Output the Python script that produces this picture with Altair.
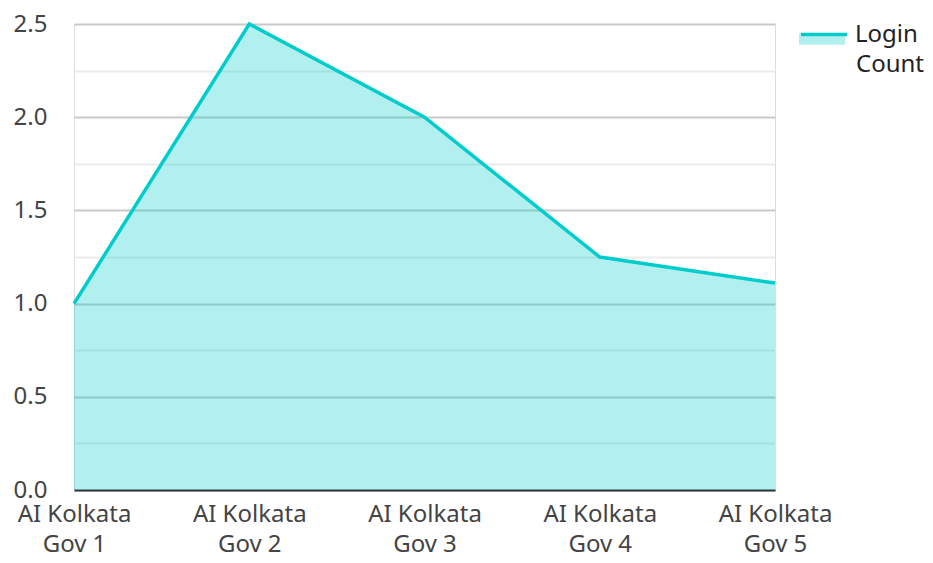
import altair as alt
import pandas as pd

categories = ["AI Kolkata Gov 1", "AI Kolkata Gov 2", "AI Kolkata Gov 3", "AI Kolkata Gov 4", "AI Kolkata Gov 5"]
login_count = [1.0, 2.5, 2.0, 1.25, 1.11]
series_name = "Login Count"
y_ticks = [0, 0.25, 0.5, 0.75, 1.0, 1.25, 1.5, 1.75, 2.0, 2.25, 2.5]

df = pd.DataFrame({"cat": categories, "value": login_count, "series": [series_name] * len(categories)})

FONT = "Noto Sans"
TEAL = "#00cccc"

x_enc = alt.X(
    "cat:N",
    sort=categories,
    scale=alt.Scale(type="point", padding=0),
    axis=alt.Axis(
        title=None,
        labelAngle=0,
        ticks=False,
        domain=True,
        domainColor="#333333",
        domainWidth=2,
        grid=False,
        labelFont=FONT,
        labelFontSize=24,
        labelColor="#444444",
        labelPadding=12,
        labelLineHeight=30,
        labelExpr="[substring(datum.label, 0, 10), substring(datum.label, 11)]",
    ),
)

y_enc = alt.Y(
    "value:Q",
    scale=alt.Scale(domain=[0, 2.5], nice=False),
    axis=alt.Axis(
        title=None,
        values=y_ticks,
        ticks=False,
        domain=False,
        grid=True,
        gridColor={"condition": {"test": "datum.value % 0.5 === 0", "value": "#c9c9c9"}, "value": "#ebebeb"},
        gridWidth=2,
        labelFont=FONT,
        labelFontSize=24,
        labelColor="#444444",
        labelPadding=27,
        labelExpr="datum.value % 0.5 === 0 ? format(datum.value, '.1f') : ''",
    ),
)

area = alt.Chart(df).mark_area(opacity=0.3).encode(
    x=x_enc,
    y=y_enc,
    fill=alt.Fill(
        "series:N",
        scale=alt.Scale(range=[TEAL]),
        legend=alt.Legend(
            orient="none",
            legendX=725,
            legendY=-8,
            title=None,
            symbolType="M-1,-0.25H1V0.25H-1Z",
            symbolSize=2116,
            symbolOpacity=0.3,
            symbolStrokeWidth=0,
            labelFont=FONT,
            labelFontSize=24,
            labelColor="#222222",
            labelOffset=11,
            labelExpr="['', 'Count']",
        ),
    ),
)

line = alt.Chart(df).mark_line(strokeWidth=3.5).encode(
    x=x_enc,
    y=y_enc,
    stroke=alt.Stroke(
        "series:N",
        scale=alt.Scale(range=[TEAL]),
        legend=alt.Legend(
            orient="none",
            legendX=725,
            legendY=-14.5,
            title=None,
            symbolType="stroke",
            symbolSize=2116,
            symbolStrokeWidth=3.5,
            labelFont=FONT,
            labelFontSize=24,
            labelColor="#222222",
            labelOffset=6,
            labelExpr="split(datum.label, ' ')[0]",
        ),
    ),
)

chart = (
    alt.layer(area, line)
    .properties(width=701, height=466, padding={"left": 5, "top": 1, "right": 0, "bottom": 0})
    .configure_view(stroke=None)
    .configure(font=FONT)
)

chart.save("out.html", embed_options={"renderer": "svg", "actions": False})
